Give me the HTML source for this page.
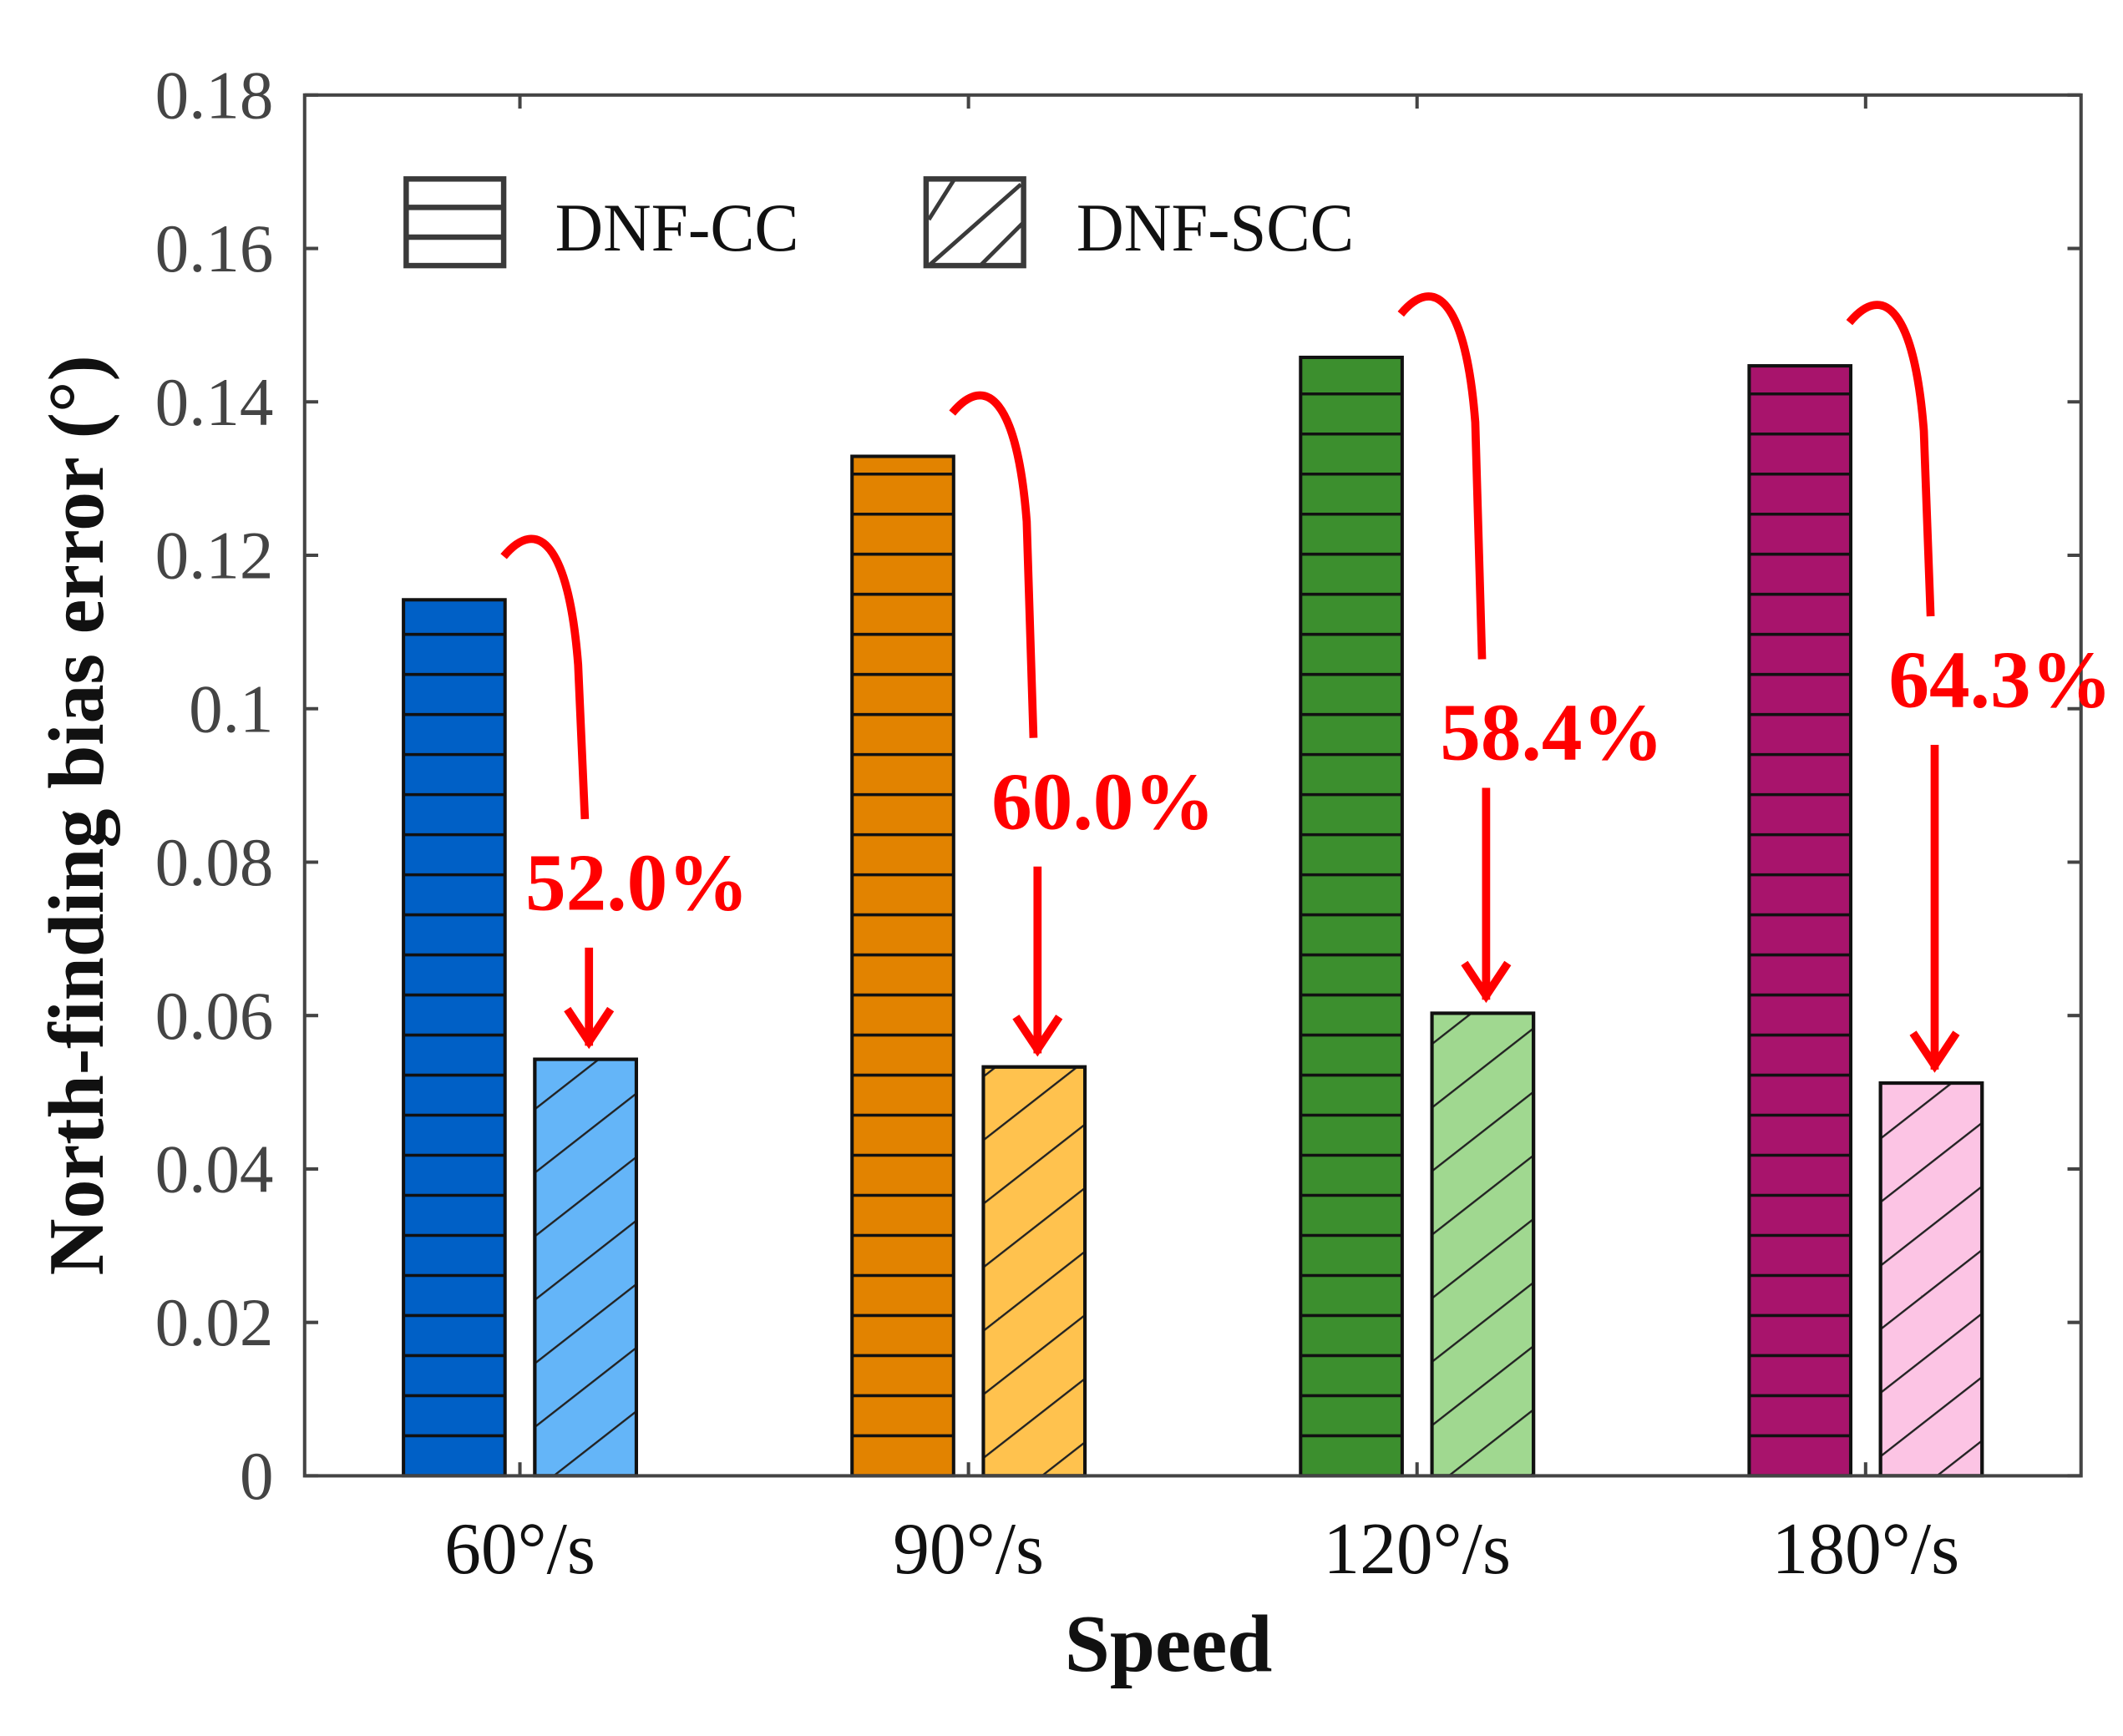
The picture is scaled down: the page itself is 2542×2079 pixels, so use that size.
<!DOCTYPE html>
<html><head><meta charset="utf-8"><style>
html,body{margin:0;padding:0;background:#fff}
svg{display:block}
text{font-family:"Liberation Serif",serif}
</style></head><body>
<svg id="chart" width="2542" height="2079" viewBox="0 0 1568 1282" xmlns="http://www.w3.org/2000/svg">
<defs>
<pattern id="hatch" patternUnits="userSpaceOnUse" width="37" height="37" patternTransform="rotate(-38)">
<line x1="0" y1="0" x2="37" y2="0" stroke="#222" stroke-width="3"/>
</pattern>
</defs>
<g id="plot"></g>
</svg>
<script>
const categories = ["60°/s","90°/s","120°/s","180°/s"];
const ccValues = [0.1142, 0.1329, 0.1458, 0.1447];
const sccValues = [0.0543, 0.0533, 0.0603, 0.0512];
const reductions = ["52.0%","60.0%","58.4%","64.3%"];
const yTicks = [0,0.02,0.04,0.06,0.08,0.1,0.12,0.14,0.16,0.18];
const yTickLabels = ["0","0.02","0.04","0.06","0.08","0.1","0.12","0.14","0.16","0.18"];
const ccColors = ["#0060C6","#E28300","#3C8F2E","#A8146C"];
const sccColors = ["#64B5F8","#FFC24E","#A0D890","#FCC4E4"];
const curveDrop = [162, 208, 223, 185];

const NS = "http://www.w3.org/2000/svg";
const g = document.getElementById("plot");
const L=225,R=1537,T=70,B=1090,yMax=0.18;
const y = v => B - v/yMax*(B-T);
const xc = i => 384 + i*331.3;
function mk(tag, attrs, parent){const e=document.createElementNS(NS,tag);for(const k in attrs)e.setAttribute(k,attrs[k]);(parent||g).appendChild(e);return e;}

categories.forEach((c,i)=>{
  const cx=xc(i);
  const x1=cx-86, w=75;
  const top=y(ccValues[i]);
  const b1=mk("rect",{x:x1,y:top,width:w,height:B-top,fill:ccColors[i],stroke:"#111","stroke-width":2.5});
  
  
  for(let yy=B-29.6; yy>top+4; yy-=29.6){
    mk("line",{x1:x1,x2:x1+w,y1:yy,y2:yy,stroke:"#111","stroke-width":2.2});
  }
  const x2=cx+11, top2=y(sccValues[i]);
  const b2=mk("rect",{x:x2,y:top2,width:w,height:B-top2,fill:sccColors[i],stroke:"#111","stroke-width":2.5});
  
  
  mk("rect",{x:x2,y:top2,width:w,height:B-top2,fill:"url(#hatch)",stroke:"#111","stroke-width":2.5});
});

const ax=mk("rect",{x:L,y:T,width:R-L,height:B-T,fill:"none",stroke:"#444","stroke-width":2.5});


yTicks.forEach((v,k)=>{
  const yy=y(v);
  mk("line",{x1:L,x2:L+10,y1:yy,y2:yy,stroke:"#444","stroke-width":2.5});
  mk("line",{x1:R-10,x2:R,y1:yy,y2:yy,stroke:"#444","stroke-width":2.5});
  const t=mk("text",{x:202,y:yy+17,"text-anchor":"end","font-size":50,fill:"#444"});
  t.textContent=yTickLabels[k];
  
  
});
categories.forEach((c,i)=>{
  const cx=xc(i);
  mk("line",{x1:cx,x2:cx,y1:B,y2:B-10,stroke:"#444","stroke-width":2.5});
  mk("line",{x1:cx,x2:cx,y1:T,y2:T+10,stroke:"#444","stroke-width":2.5});
  const t=mk("text",{x:cx,y:1162,"text-anchor":"middle","font-size":54,fill:"#111"});
  t.textContent=c;
  
  
});

categories.forEach((c,i)=>{
  const top=y(ccValues[i]);
  const sx=xc(i)-12, sy=top-32;
  const ex=xc(i)+48, ey=top+curveDrop[i];
  mk("path",{d:`M${sx},${sy} C${sx+25},${sy-30} ${sx+48},${sy-10} ${sx+55},${sy+80} L${ex},${ey}`,fill:"none",stroke:"#FF0000","stroke-width":6});
  const ax2=xc(i)+51, ae=y(sccValues[i])-10;
  const as=ey+95;
  mk("line",{x1:ax2,x2:ax2,y1:as,y2:ae,stroke:"#FF0000","stroke-width":6});
  mk("polyline",{points:`${ax2-16},${ae-27} ${ax2},${ae-3} ${ax2+16},${ae-27}`,fill:"none",stroke:"#FF0000","stroke-width":6});
  const t=mk("text",{x:xc(i)+4+(i>0?13:0),y:ey+67+(i===2?7:0),"font-size":60,"font-weight":"bold",fill:"#FF0000"});
  t.textContent=reductions[i];
  
  
});
</script>
<svg style="position:absolute;left:0;top:0" width="2542" height="2079" viewBox="0 0 1568 1282" xmlns="http://www.w3.org/2000/svg">
<g>
<rect x="300" y="132" width="72" height="64" fill="none" stroke="#3a3a3a" stroke-width="4"/>
<line x1="300" y1="153" x2="372" y2="153" stroke="#3a3a3a" stroke-width="4"/>
<line x1="300" y1="175" x2="372" y2="175" stroke="#3a3a3a" stroke-width="4"/>
<text x="410" y="185" font-size="50" textLength="180" lengthAdjust="spacingAndGlyphs" fill="#111" font-family="Liberation Serif, serif">DNF-CC</text>
<rect x="684" y="132" width="72" height="64" fill="none" stroke="#3a3a3a" stroke-width="4"/>
<line x1="686" y1="162" x2="705" y2="132" stroke="#3a3a3a" stroke-width="3"/>
<line x1="686" y1="196" x2="754" y2="136" stroke="#3a3a3a" stroke-width="3"/>
<line x1="724" y1="196" x2="756" y2="164" stroke="#3a3a3a" stroke-width="3"/>
<text x="795" y="185" font-size="50" textLength="205" lengthAdjust="spacingAndGlyphs" fill="#111" font-family="Liberation Serif, serif">DNF-SCC</text>
</g>
<text transform="translate(76,602) rotate(-90)" text-anchor="middle" font-size="58" font-weight="bold" fill="#111" font-family="Liberation Serif, serif">North-finding bias error (°)</text>
<text x="863" y="1234" text-anchor="middle" font-size="60" font-weight="bold" fill="#111" font-family="Liberation Serif, serif">Speed</text>
</svg>
</body></html>
